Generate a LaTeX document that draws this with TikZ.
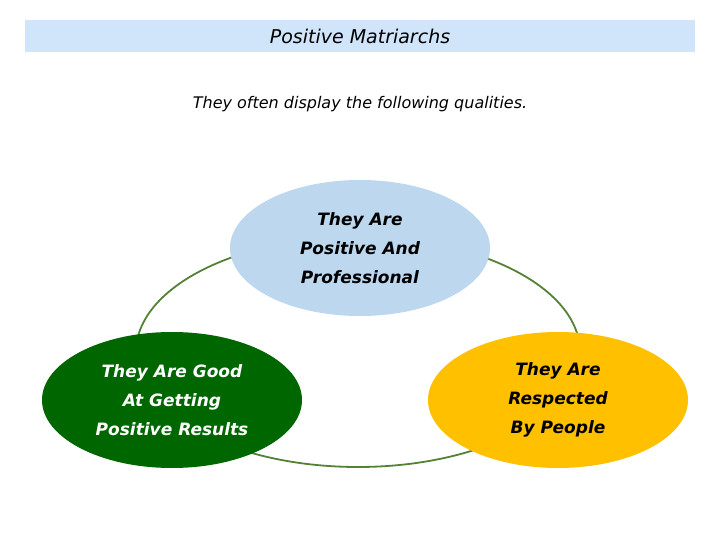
\documentclass[tikz,border=0pt]{standalone}
\usepackage{fontspec}
\setmainfont{DejaVu Sans}
\usetikzlibrary{shapes.geometric}
\definecolor{barblue}{HTML}{D0E4FA}
\definecolor{topblue}{HTML}{BDD7EE}
\definecolor{ringgreen}{HTML}{548235}
\definecolor{darkgreen}{HTML}{006600}
\definecolor{gold}{HTML}{FFC000}
\tikzset{
  quality/.style={ellipse, minimum width=260pt, minimum height=136pt, inner sep=0pt,
    align=center, font=\fontsize{17}{29}\selectfont\bfseries\itshape}
}
\begin{document}
\begin{tikzpicture}[x=1pt,y=-1pt]
    \useasboundingbox (0,0) rectangle (720,540);
    % Titel
    \fill[barblue] (25,20) rectangle (695,52);
    \node (title) at (360,36) {\fontsize{19}{22}\selectfont\itshape Positive Matriarchs};
    \node (sub) at (360,104) {\fontsize{16}{20}\selectfont\itshape They often display the following qualities.};

    % Ring
    \draw[ringgreen, line width=1.8pt] (358,352) ellipse [x radius=222, y radius=115];

    % Qualities
    \node[quality, fill=topblue] (prof) at (360,248) {They Are\\Positive And\\Professional};
    \node[quality, fill=darkgreen, text=white] (good) at (172,400) {They Are Good\\At Getting\\Positive Results};
    \node[quality, fill=gold] (resp) at (558,400) {They Are\\Respected\\By People};
\end{tikzpicture}
\end{document}
